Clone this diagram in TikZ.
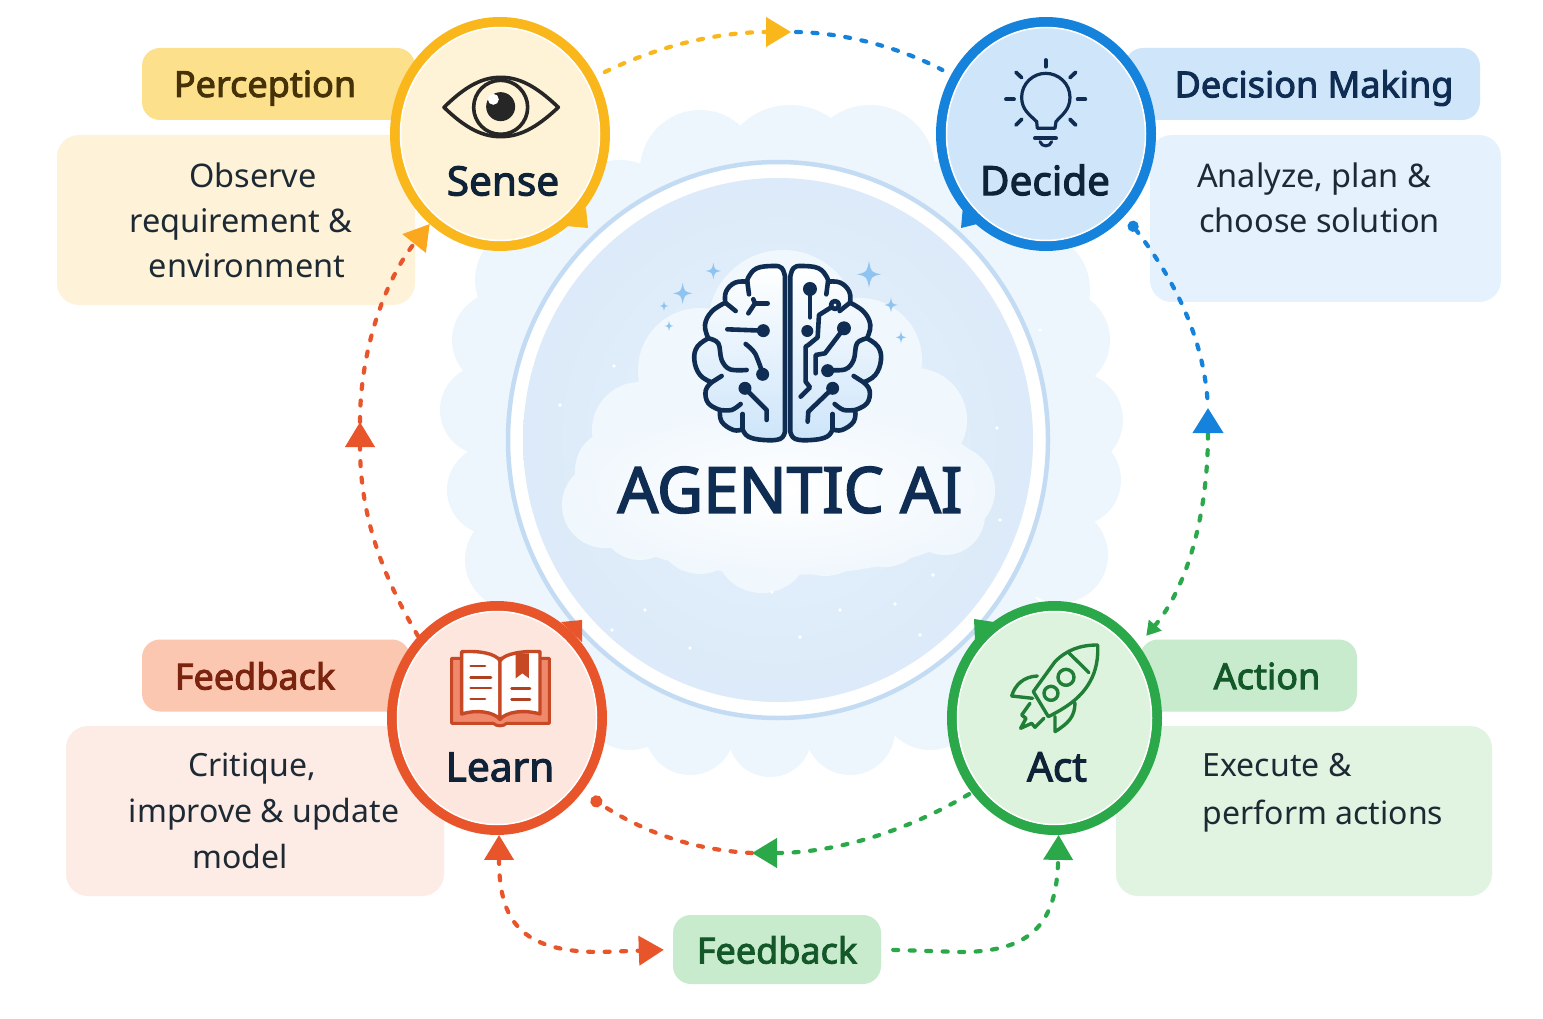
\documentclass[tikz,border=0pt]{standalone}
\usepackage{fontspec}
\setmainfont{Noto Sans}
\newfontfamily\headfont[FakeBold=2.6]{Noto Sans}
\usetikzlibrary{arrows.meta,shapes.geometric}

\definecolor{navy}{HTML}{0F2C52}
\definecolor{inkdark}{HTML}{0E2238}
\definecolor{bodyink}{HTML}{1E2A33}
\definecolor{cloudblue}{HTML}{EEF6FD}
\definecolor{ringblue}{HTML}{C3DCF4}
\definecolor{discblue}{HTML}{DCEAF9}
\definecolor{discmid}{HTML}{E6F1FB}
\definecolor{cloudwhite}{HTML}{F0F7FD}
\definecolor{brainblue}{HTML}{CDE5FA}
\definecolor{starblue}{HTML}{8FC4F1}
\definecolor{senseline}{HTML}{F9B71C}
\definecolor{sensehead}{HTML}{FBA81E}
\definecolor{sensefill}{HTML}{FEF3D6}
\definecolor{sensetag}{HTML}{FDE08C}
\definecolor{sensebox}{HTML}{FEF2D8}
\definecolor{sensetext}{HTML}{453206}
\definecolor{decideline}{HTML}{1583DC}
\definecolor{decidefill}{HTML}{CFE5FA}
\definecolor{decidetag}{HTML}{CFE5F9}
\definecolor{decidebox}{HTML}{E5F1FC}
\definecolor{learnline}{HTML}{E9552B}
\definecolor{learnfill}{HTML}{FDE6DD}
\definecolor{learntag}{HTML}{FBC7B1}
\definecolor{learnbox}{HTML}{FDECE6}
\definecolor{learntext}{HTML}{7A2410}
\definecolor{actline}{HTML}{2BA84A}
\definecolor{actfill}{HTML}{DDF3DE}
\definecolor{acttag}{HTML}{C9EBCD}
\definecolor{actbox}{HTML}{E1F4E2}
\definecolor{acttext}{HTML}{14582A}

\tikzset{
    stage/.style 2 args={ellipse,draw=#1,fill=#2,line width=10pt,
        minimum width=210pt,minimum height=224pt,inner sep=0pt},
    stagerim/.style={ellipse,draw=white,line width=1.5pt,
        minimum width=199pt,minimum height=213pt,inner sep=0pt},
    stagename/.style={font=\fontsize{40.5}{46}\headfont\selectfont,text=inkdark,inner sep=0pt},
    tagbox/.style={rounded corners=18pt,fill=#1,minimum height=72pt,inner sep=0pt},
    tagname/.style={font=\fontsize{36}{40}\headfont\selectfont,inner sep=0pt},
    descbox/.style={rounded corners=22pt,fill=#1,minimum height=170pt,inner sep=0pt},
    desc/.style={font=\fontsize{32.5}{45}\selectfont,text=bodyink,inner sep=0pt},
    flow/.style={line width=4.2pt,line cap=round,dash pattern=on 5pt off 11.5pt},
    bighead/.style={-{Triangle[length=25pt,width=29pt,#1]}},
    icon/.style={line cap=round,line join=round},
    brainline/.style={draw=navy,line width=4.6pt,line cap=round,line join=round},
    braindot/.style={fill=navy,draw=none},
}

% half of the brain, drawn for the left side, in zoomed coordinates
\newcommand{\brainhalf}{%
    \draw[brainline,top color=white,bottom color=brainblue]
        plot[smooth,tension=.7] coordinates {(435,110) (425,84) (400,78) (350,85) (325,112) (322,125)}
        -- plot[smooth,tension=.7] coordinates {(322,125) (285,128) (258,155) (256,188)}
        -- plot[smooth,tension=.7] coordinates {(256,188) (215,215) (195,255) (205,295)}
        -- plot[smooth,tension=.7] coordinates {(205,295) (172,320) (163,360) (180,405) (215,427)}
        -- plot[smooth,tension=.7] coordinates {(215,427) (197,452) (205,490) (240,510)}
        -- plot[smooth,tension=.7] coordinates {(240,510) (245,545) (280,570) (308,568)}
        -- plot[smooth,tension=.7] coordinates {(308,568) (325,590) (370,600) (420,597) (435,575)}
        -- cycle;
    \draw[brainline] (322,125) -- (327,163);
    \draw[brainline] (256,188) -- (287,213);
    \draw[brainline] plot[smooth,tension=.6] coordinates {(205,295) (235,310) (245,360) (270,388) (320,390)};
    \draw[brainline] (215,427) -- (245,408);
    \draw[brainline] plot[smooth,tension=.6] coordinates {(240,510) (275,510) (302,492)};
    \draw[brainline] (308,568) -- (308,522);
}

\begin{document}
\begin{tikzpicture}[x=1pt,y=-1pt]
    \useasboundingbox (0,0) rectangle (1543,1019);
    \fill[white] (0,0) rectangle (1543,1019);

    % cloud behind the disc
    \foreach \cx/\cy/\cr in {790/175/70,700/170/60,870/170/65,620/220/60,950/220/60,
        530/280/55,1030/290/60,500/340/48,1060/340/50,485/410/45,1075/420/48,
        492/490/45,1075/480/46,515/560/50,1060/555/48,570/640/55,1000/640/55,
        630/700/50,690/730/45,770/735/42,850/730/45,930/700/50,780/440/300}
        \fill[cloudblue] (\cx,\cy) circle[radius=\cr pt];

    % the central disc
    \node[ellipse,draw=ringblue,line width=4.5pt,fill=white,minimum width=540pt,minimum height=556pt,inner sep=0pt] (ring) at (778,440) {};
    \node[ellipse,inner color=discmid,outer color=discblue,minimum width=510pt,minimum height=524pt,inner sep=0pt] (disc) at (778,440) {};
    \begin{scope}
        \clip (778,440) ellipse[x radius=255pt,y radius=262pt];
        \foreach \cx/\cy/\cr in {605/505/43,640/430/48,615/470/40,700/370/62,783/325/75,860/360/62,
            915/420/52,950/490/45,640/520/40,700/530/44,762/545/48,825/530/46,885/525/42,945/515/40,780/440/125}
            \fill[cloudwhite] (\cx,\cy) circle[radius=\cr pt];
        \shade[inner color=white,outer color=cloudwhite] (785,490) ellipse[x radius=210pt,y radius=85pt];
    \end{scope}
    \foreach \cx/\cy in {614/366,997/428,560/405,800/637,772/592,933/575,645/610,840/610,1000/520,1040/330,
        612/630,690/648,895/604,920/635}
        \fill[white] (\cx,\cy) circle[radius=1.8pt];

    % brain
    \begin{scope}[shift={(640,240)},x=.3333pt,y=-.3333pt]
        \foreach \sx/\sy/\sr in {687/103/40,753/195/22,783/292/18,220/93/25,128/160/32,72/198/15,87/258/15}
            \fill[starblue] (\sx,\sy-\sr) .. controls (\sx+.16*\sr,\sy-.16*\sr) .. (\sx+.9*\sr,\sy)
                .. controls (\sx+.16*\sr,\sy+.16*\sr) .. (\sx,\sy+\sr)
                .. controls (\sx-.16*\sr,\sy+.16*\sr) .. (\sx-.9*\sr,\sy)
                .. controls (\sx-.16*\sr,\sy-.16*\sr) .. cycle;
        \brainhalf
        \begin{scope}[shift={(886,0)},xscale=-1]
            \brainhalf
        \end{scope}
        % left circuits
        \draw[brainline] (340,178) -- (345,190) -- (325,220);
        \draw[brainline] (345,190) -- (383,190);
        \draw[brainline] (262,268) -- (370,272);
        \fill[braindot] (370,272) circle[radius=6.5pt];
        \draw[brainline] plot[smooth,tension=.5] coordinates {(317,312) (345,340) (368,400)};
        \fill[braindot] (368,403) circle[radius=6.5pt];
        \draw[brainline] (315,445) -- (380,510) -- (380,540);
        \fill[braindot] (315,445) circle[radius=6.5pt];
        % right circuits
        \draw[brainline] (510,147) -- (510,232);
        \fill[braindot] (510,147) circle[radius=7pt];
        \fill[braindot] (502,273) circle[radius=6pt];
        \draw[brainline] (585,195) circle[radius=4pt];
        \draw[brainline] (572,203) -- (537,225) -- (533,292) -- (505,315) -- (497,320) -- (497,425) -- (510,442) -- (482,470);
        \draw[brainline] (612,265) -- (555,340) -- (527,345) -- (527,400);
        \fill[braindot] (612,265) circle[radius=7pt];
        \fill[braindot] (563,392) circle[radius=6.5pt];
        \draw[brainline] (578,445) -- (505,515) -- (503,545);
        \fill[braindot] (578,445) circle[radius=6.5pt];
    \end{scope}
    \node[font=\fontsize{63.5}{70}\headfont\selectfont,text=navy,inner sep=0pt] (title) at (790,490) {AGENTIC AI};

    % tags and descriptions
    \node[tagbox=sensetag,minimum width=273pt] (perception) at (278.5,84) {};
    \node[tagname,text=sensetext] (perceptionname) at (265,88) {Perception};
    \node[descbox=sensebox,minimum width=358pt] (sensebox) at (236,220) {};
    \node[desc,align=center] (sensedesc) at (241,220) {\hspace*{24pt}Observe\\requirement \&\\\hspace*{12pt}environment};

    \node[tagbox=decidetag,minimum width=355pt] (decision) at (1302.5,84) {};
    \node[tagname,text=navy] (decisionname) at (1314,88) {Decision Making};
    \node[descbox=decidebox,minimum width=351pt,minimum height=167pt] (decidebox) at (1325.5,218.5) {};
    \node[desc,align=center] (decidedesc) at (1314,198) {Analyze, plan \&\\\hspace*{11pt}choose solution};

    \node[tagbox=learntag,minimum width=268pt] (feedbackleft) at (276,675.5) {};
    \node[tagname,text=learntext] (feedbackleftname) at (255,676) {Feedback};
    \node[descbox=learnbox,minimum width=378pt] (learnbox) at (255,811) {};
    \node[desc,align=center,font=\fontsize{32}{46}\selectfont] (learndesc) at (240,811) {\hspace*{24pt}Critique,\\\hspace*{48pt}improve \& update\\model};

    \node[tagbox=acttag,minimum width=217pt] (action) at (1248.5,675.5) {};
    \node[tagname,text=acttext] (actionname) at (1267,676) {Action};
    \node[descbox=actbox,minimum width=376pt] (actbox) at (1304,811) {};
    \node[desc,align=left,font=\fontsize{32}{48}\selectfont] (actdesc) at (1323,793) {Execute \&\\perform actions};

    \node[tagbox=acttag,minimum width=208pt,minimum height=69pt] (feedback) at (777,949.5) {};
    \node[tagname,text=acttext] (feedbackname) at (777,950) {Feedback};

    % speech tails
    \fill[senseline] (566,226) -- (588,228) -- (586,208) -- cycle;
    \fill[decideline] (981,223) -- (961,228) -- (963,206) -- cycle;
    \fill[learnline] (561,622) -- (582,620) -- (582,642) -- cycle;
    \fill[actline] (994,622) -- (974,619) -- (975,641) -- cycle;

    % the four stages
    \node[stage={senseline}{sensefill}] (sense) at (500,134) {};
    \node[stagerim] (senserim) at (500,134) {};
    \node[stagename] (sensename) at (503,181) {Sense};
    \node[stage={decideline}{decidefill}] (decide) at (1046,134) {};
    \node[stagerim] (deciderim) at (1046,134) {};
    \node[stagename] (decidename) at (1045,180) {Decide};
    \node[stage={learnline}{learnfill}] (learn) at (497,718) {};
    \node[stagerim] (learnrim) at (497,718) {};
    \node[stagename] (learnname) at (500,767) {Learn};
    \node[stage={actline}{actfill},minimum width=205pt] (act) at (1054.5,718) {};
    \node[stagerim,minimum width=194pt] (actrim) at (1054.5,718) {};
    \node[stagename] (actname) at (1057,767) {Act};

    % eye
    \begin{scope}[shift={(380,10)},x=.3333pt,y=-.3333pt]
        \draw[icon,draw=black!85,line width=3.6pt] (192,292) .. controls (260,225) and (310,202) .. (362,202)
            .. controls (415,202) and (465,225) .. (535,292)
            .. controls (465,358) and (415,380) .. (362,380)
            .. controls (310,380) and (260,358) .. cycle;
        \draw[draw=black!85,line width=3.6pt] (362,292) circle[radius=27pt];
        \fill[black!85] (362,290) circle[radius=14.5pt];
        \fill[white] (340,268) circle[radius=5.5pt];
    \end{scope}

    % bulb
    \begin{scope}[shift={(930,10)},x=.3333pt,y=-.3333pt]
        \draw[icon,draw=navy,line width=3.2pt] (322,355) -- (320,335)
            .. controls (300,315) and (275,300) .. (275,262)
            .. controls (275,220) and (310,190) .. (347,190)
            .. controls (385,190) and (420,220) .. (420,262)
            .. controls (420,300) and (395,315) .. (378,335) -- (375,355) -- cycle;
        \draw[icon,draw=navy,line width=4pt] (315,385) -- (378,385);
        \draw[icon,draw=navy,line width=3pt] (330,395) .. controls (335,412) and (360,412) .. (365,395);
        \foreach \ax/\ay/\bx/\by in {347/150/347/170,228/268/252/268,443/268/466/268,258/187/275/203,
            437/187/420/203,258/345/275/328,437/345/420/328}
            \draw[icon,draw=navy,line width=3.8pt] (\ax,\ay) -- (\bx,\by);
    \end{scope}

    % book
    \begin{scope}[shift={(380,590)},x=.3333pt,y=-.3333pt]
        \draw[icon,draw=learnline!85!black,fill=learnline!70,line width=3pt] (215,205) -- (215,400) -- (340,400)
            .. controls (350,410) and (370,410) .. (380,400) -- (508,400) -- (508,205) -- cycle;
        \draw[icon,draw=learnline!85!black,fill=white,line width=3.4pt] (245,185) .. controls (300,182) and (345,190) .. (360,212)
            -- (360,388) .. controls (340,365) and (290,358) .. (245,372) -- cycle;
        \draw[icon,draw=learnline!85!black,fill=white,line width=3.4pt] (480,185) .. controls (430,182) and (375,190) .. (360,212)
            -- (360,388) .. controls (380,365) and (430,358) .. (480,372) -- cycle;
        \fill[learnline!85!black] (407,190) -- (447,190) -- (447,265) -- (427,250) -- (407,265) -- cycle;
        \foreach \ax/\bx/\ay in {272/315/228,272/333/262,272/333/294,272/315/327,395/450/296,395/450/328}
            \draw[icon,draw=learnline!75!black,line width=2.8pt] (\ax,\ay) -- (\bx,\ay);
    \end{scope}

    % rocket
    \begin{scope}[shift={(940,590)},x=.3333pt,y=-.3333pt,icon,draw=actline!75!black,line width=3.4pt]
        \draw (473,165) .. controls (420,165) and (380,180) .. (345,215) -- (280,305) -- (325,380)
            .. controls (385,350) and (425,320) .. (450,275) .. controls (470,240) and (475,200) .. cycle;
        \draw (388,190) -- (447,248);
        \draw (378,262) circle[radius=8pt];
        \draw (333,310) circle[radius=7pt];
        \draw (215,318) .. controls (225,285) and (250,260) .. (292,258) (215,318) -- (278,325);
        \draw (345,425) -- (345,380) (345,425) .. controls (385,400) and (405,380) .. (405,338);
        \draw (270,340) -- (245,375) -- (258,385) -- (242,415) -- (275,400) -- (285,412) -- (312,385);
    \end{scope}

    % connectors
    \coordinate (topmid) at (791,32);
    \coordinate (topnext) at (796,32);
    \coordinate (rightmid) at (1208,408);
    \coordinate (bottommid) at (752,853);
    \coordinate (leftmid) at (360,422);

    \draw[flow,senseline,bighead,shorten <=10pt] (sense.31) .. controls (660,45) and (720,32) .. (topmid);
    \draw[flow,decideline,shorten >=10pt] (topnext) .. controls (850,33) and (905,50) .. (decide.148);
    \draw[flow,decideline,{Circle[length=11pt]}-,shorten <=8pt] (decide.-46) .. controls (1175,280) and (1205,340) .. (rightmid);
    \draw[flow,actline,{Triangle[length=14pt,width=16pt]}-{Triangle[length=25pt,width=30pt,color=decideline,fill=decideline]},shorten <=12pt] (act.41) .. controls (1185,590) and (1208,520) .. (rightmid);
    \draw[flow,actline,bighead,shorten <=3pt] (act.-138) .. controls (900,835) and (830,853) .. (bottommid);
    \draw[flow,learnline,-{Circle[length=12pt]},shorten >=11pt] (bottommid) .. controls (690,850) and (640,830) .. (learn.-41);
    \draw[flow,learnline,bighead] (learn.134) .. controls (385,580) and (360,520) .. (leftmid);
    \draw[flow,learnline,-{Triangle[length=25pt,width=29pt,fill=sensehead,color=sensehead]}] (leftmid) .. controls (360,350) and (385,280) .. (sense.-128);
    \draw[flow,learnline,{Triangle[length=25pt,width=29pt]}-{Triangle[length=25pt,width=29pt]},shorten >=9pt] (learn.-89) .. controls (499,920) and (520,952) .. (600,952) -- (feedback.west);
    \draw[flow,actline,-{Triangle[length=25pt,width=29pt]},shorten <=12pt] (feedback.east) -- (960,952) .. controls (1030,952) and (1057,925) .. (act.-88.5);
\end{tikzpicture}
\end{document}
